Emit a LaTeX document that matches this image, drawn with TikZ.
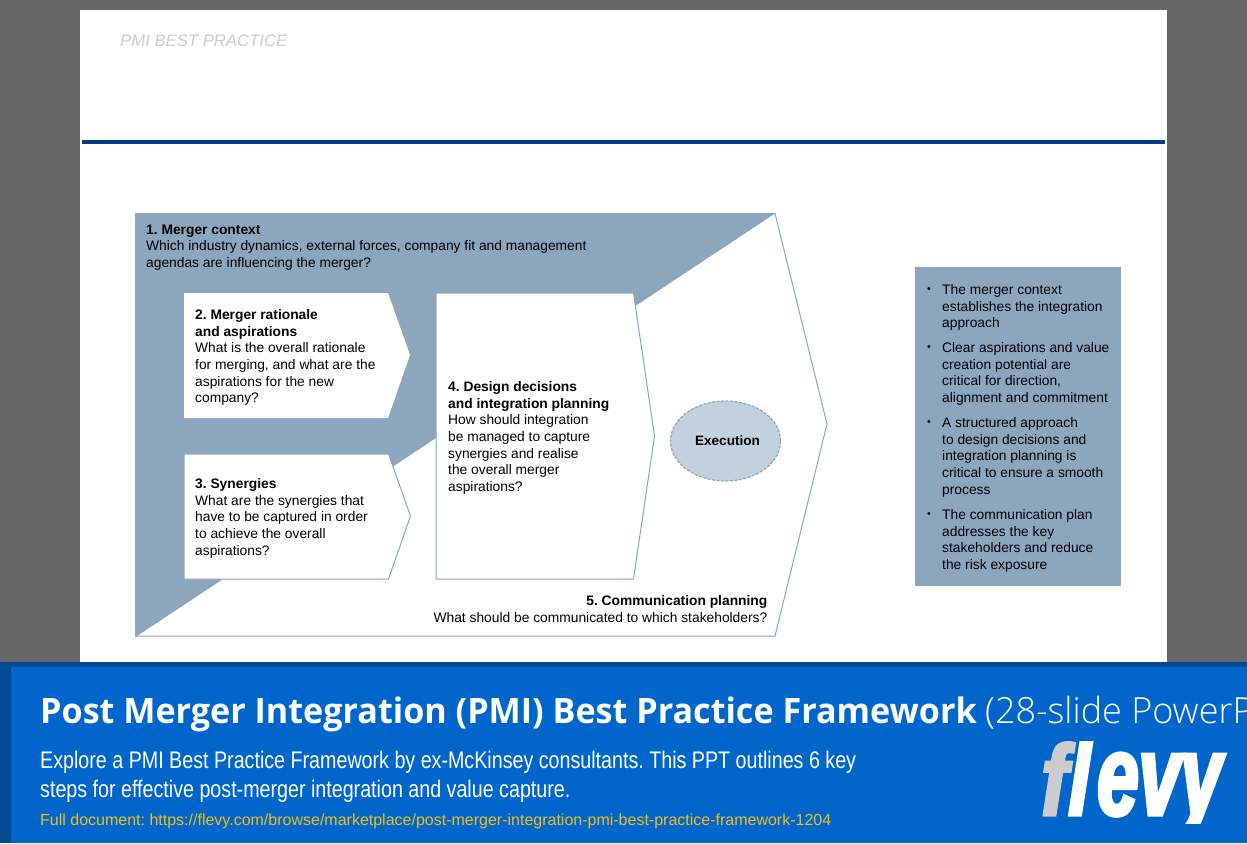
\documentclass[tikz,border=0pt]{standalone}
\usepackage{fontspec}
\usetikzlibrary{shapes.geometric}
\setmainfont{Liberation Sans}
\newfontfamily\titlefont[FakeStretch=0.975]{Open Sans}
\newfontfamily\lightfont{Open Sans Light}
\newfontfamily\narrowfont[FakeStretch=0.82]{Liberation Sans}
\newfontfamily\logofont[FakeStretch=0.8,FakeBold=3]{Liberation Sans Bold Italic}
\newfontfamily\logofontb[FakeStretch=0.65,FakeBold=3]{Liberation Sans Bold Italic}
\definecolor{pagegray}{HTML}{666666}
\definecolor{rule}{HTML}{003F87}
\definecolor{steel}{HTML}{8CA6BE}
\definecolor{bannerdark}{HTML}{004A93}
\definecolor{bannerblue}{HTML}{0066CC}
\definecolor{ellfill}{HTML}{C3D1DE}
\definecolor{linkyellow}{HTML}{F2BE1A}
\definecolor{logogray}{HTML}{CCCCCC}
\tikzset{
  body/.style={anchor=north west,inner sep=0pt,align=left,font=\fontsize{13.8}{16.6}\selectfont,text=black},
  bulletmark/.style={anchor=center,inner sep=0pt,font=\fontsize{10.5}{10.5}\selectfont,text=black},
  outline/.style={draw=steel,line width=1pt,fill=white,line join=miter},
}
\frenchspacing
\begin{document}
\begin{tikzpicture}[x=1pt,y=-1pt]
\useasboundingbox (0,0) rectangle (1247,843);
\clip (0,0) rectangle (1247,843);
\fill[pagegray] (0,0) rectangle (1247,843);
\fill[white] (80,10) rectangle (1167,662);
\fill[rule] (82,140) rectangle (1165,143.5);
\node[anchor=base west,inner sep=0pt,text=logogray,font=\fontsize{16.7}{18}\selectfont\itshape] (head) at (120,46.5) {PMI BEST PRACTICE};
% main chevron
\path[outline] (135.5,213.5) -- (775,213.5) -- (827,424) -- (775,636) -- (135.5,636) -- cycle;
\fill[steel] (135.5,213.5) -- (775,213.5) -- (135.5,637) -- cycle;
\draw[steel,line width=1pt] (135.5,213.5) -- (135.5,636);
% inner boxes
\fill[white] (184,293) -- (388,293) -- (410,355) -- (388,418) -- (184,418) -- cycle;
\path[outline] (184,454) -- (388.5,454) -- (410.5,516) -- (388.5,579) -- (184,579) -- cycle;
\path[outline] (436,293) -- (633.5,293) -- (654.5,436) -- (633.5,579) -- (436,579) -- cycle;
\node[draw=steel,dash pattern=on 3pt off 1.5pt,line width=1.2pt,fill=ellfill,ellipse,minimum width=110pt,minimum height=80pt,inner sep=0pt,font=\fontsize{13.6}{16}\selectfont\bfseries] (exec) at (725.5,441) {\hspace*{4pt}\raisebox{-0.8pt}{Execution}};
% texts
\node[body] (t1) at (146,224.5) {\textbf{1. Merger context}\\Which industry dynamics, external forces, company fit and management\\agendas are influencing the merger?};
\node[body] (t2) at (195,309.5) {\textbf{2. Merger rationale}\\\textbf{and aspirations}\\What is the overall rationale\\for merging, and what are the\\aspirations for the new\\company?};
\node[body] (t3) at (195,478.5) {\textbf{3. Synergies}\\What are the synergies that\\have to be captured in order\\to achieve the overall\\aspirations?};
\node[body] (t4) at (448,381.5) {\textbf{4. Design decisions}\\\textbf{and integration planning}\\How should integration\\be managed to capture\\synergies and realise\\the overall merger\\aspirations?};
\node[body,anchor=north east,align=right] (t5) at (767.5,595.5) {\textbf{5. Communication planning}\\What should be communicated to which stakeholders?};
% side panel
\fill[steel] (915,267) rectangle (1121,585.5);
\foreach \n/\y in {a/290,b/348,c/423,d/515}{
  \node[bulletmark] (bul\n) at (929,\y) {•};
}
\node[body] (s1) at (942,284.5) {The merger context\\establishes the integration\\approach};
\node[body] (s2) at (942,342.5) {Clear aspirations and value\\creation potential are\\critical for direction,\\alignment and commitment};
\node[body] (s3) at (942,417.5) {A structured approach\\to design decisions and\\integration planning is\\critical to ensure a smooth\\process};
\node[body] (s4) at (942,509.5) {The communication plan\\addresses the key\\stakeholders and reduce\\the risk exposure};
% banner
\fill[bannerdark] (0,662) rectangle (1247,843);
\fill[bannerblue] (11,667) rectangle (1247,843);
\node[anchor=base west,inner sep=0pt,text=white,font=\fontsize{35}{40}\selectfont\titlefont\bfseries] (title) at (40,723) {Post Merger Integration (PMI) Best Practice Framework};
\node[anchor=base west,inner sep=0pt,text=white,font=\fontsize{36}{40}\selectfont\lightfont] (titleb) at (985,723) {(28-slide PowerP};
\node[anchor=base west,inner sep=0pt,text=white,align=left,font=\fontsize{24}{28.3}\selectfont\narrowfont] (sub) at (40,797) {Explore a PMI Best Practice Framework by ex-McKinsey consultants. This PPT outlines 6 key\\steps for effective post-merger integration and value capture.};
\node[anchor=base west,inner sep=0pt,text=linkyellow,font=\fontsize{16}{18}\selectfont] (link) at (40,825) {Full document: https://flevy.com/browse/marketplace/post-merger-integration-pmi-best-practice-framework-1204};
\node[anchor=base west,inner sep=0pt,text=logogray,font=\fontsize{100}{100}\selectfont\logofont] (logof) at (1041,815) {f};
\node[anchor=base west,inner sep=0pt,text=white,font=\fontsize{100}{100}\selectfont\logofont] (logol) at (1068,815) {l};
\begin{scope}
\clip (1090,730) rectangle (1247,823);
\node[anchor=base west,inner sep=0pt,text=white,font=\fontsize{115}{115}\selectfont\logofontb] (logor) at (1097,815) {evy};
\end{scope}
\end{tikzpicture}
\end{document}
